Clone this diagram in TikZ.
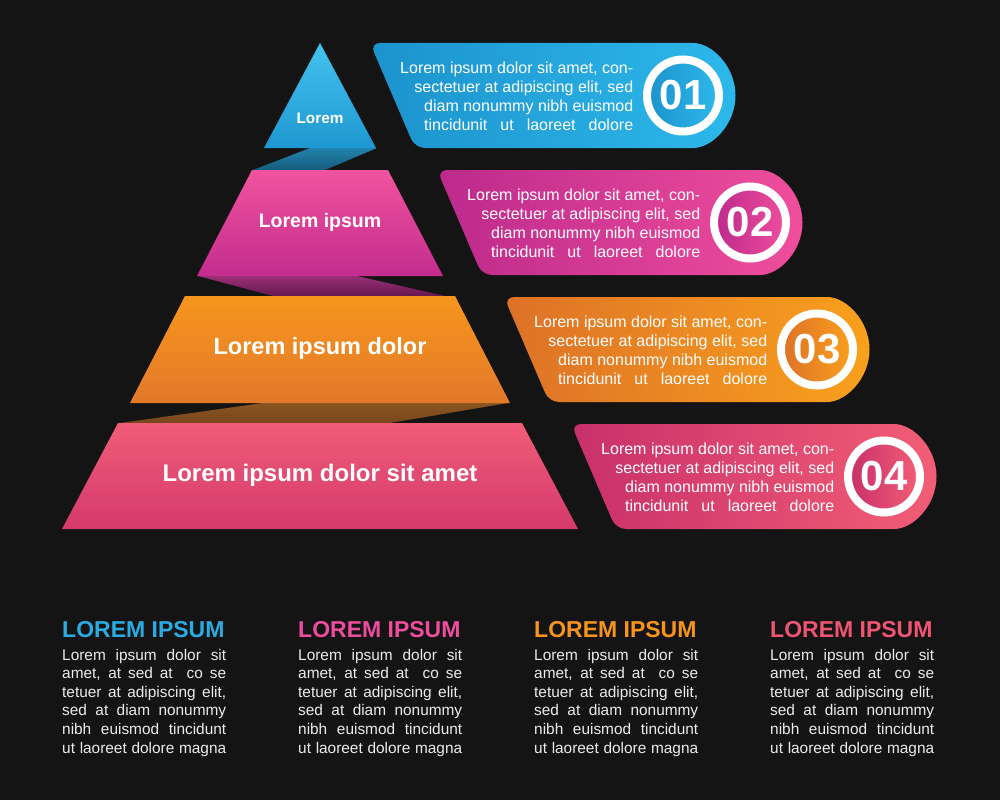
\documentclass[tikz,border=0pt]{standalone}
\usepackage{fontspec}
\setmainfont{Liberation Sans}
\usetikzlibrary{positioning}
\definecolor{bgdark}{HTML}{141414}
\definecolor{bluetop}{HTML}{45C2EE}
\definecolor{bluebot}{HTML}{1E98D0}
\definecolor{blueleft}{HTML}{1C93CD}
\definecolor{blueright}{HTML}{2DB8EA}
\definecolor{tealtop}{HTML}{2284AD}
\definecolor{tealbot}{HTML}{165B7C}
\definecolor{pinktop}{HTML}{F0539E}
\definecolor{pinkbot}{HTML}{C42C8E}
\definecolor{pinkleft}{HTML}{BD2A8C}
\definecolor{pinkright}{HTML}{EF4E9C}
\definecolor{plumtop}{HTML}{9A3076}
\definecolor{plumbot}{HTML}{661850}
\definecolor{orangetop}{HTML}{F7961D}
\definecolor{orangebot}{HTML}{E2792A}
\definecolor{orangeleft}{HTML}{DD7227}
\definecolor{orangeright}{HTML}{F9A01D}
\definecolor{browntop}{HTML}{8A5522}
\definecolor{brownbot}{HTML}{77461B}
\definecolor{redtop}{HTML}{F05C78}
\definecolor{redbot}{HTML}{D43A6C}
\definecolor{redleft}{HTML}{C8306A}
\definecolor{redright}{HTML}{F25E76}
\definecolor{headblue}{HTML}{2AACE3}
\definecolor{headpink}{HTML}{EE4C9E}
\definecolor{headorange}{HTML}{F7941D}
\definecolor{headred}{HTML}{EF5573}
\definecolor{bodygrey}{HTML}{ECECEC}

\begin{document}
\begin{tikzpicture}[x=1pt,y=-1pt,
  tierlabel/.style={text=white,inner sep=0pt},
  numlabel/.style={text=white,inner sep=0pt,font=\bfseries\fontsize{42}{42}\selectfont},
  ring/.style={draw=white,line width=8pt},
  calltext/.style={anchor=base west,inner sep=0pt,text=white,font=\fontsize{16}{19}\selectfont},
  headtext/.style={anchor=base west,inner sep=0pt,font=\bfseries\fontsize{23}{24}\selectfont},
  bodytext/.style={anchor=base west,inner sep=0pt,text=bodygrey,font=\fontsize{15.4}{18.6}\selectfont}]
	\fill[bgdark] (0,0) rectangle (1000,800);
	\useasboundingbox (0,0) rectangle (1000,800);
	\shade[top color=tealtop,bottom color=tealbot] (310,148) -- (377,148) -- (325,170) -- (253,170) -- cycle;
	\shade[top color=plumtop,bottom color=plumbot] (198,276) -- (357,276) -- (445,296) -- (273,296) -- cycle;
	\shade[top color=browntop,bottom color=brownbot] (263,403) -- (508,403) -- (390,423) -- (120,423) -- cycle;
	\shade[top color=bluetop,bottom color=bluebot] (320,43) -- (376,148) -- (264,148) -- cycle;
	\shade[top color=pinktop,bottom color=pinkbot] (252,170) -- (388,170) -- (443,276) -- (197,276) -- cycle;
	\shade[top color=orangetop,middle color=orangetop,bottom color=orangebot] (185,296) -- (455,296) -- (510,403) -- (130,403) -- cycle;
	\shade[top color=redtop,middle color=redtop!60!redbot,bottom color=redbot] (118,423) -- (522,423) -- (578,529) -- (62,529) -- cycle;
	\node[tierlabel,font=\bfseries\fontsize{15.3}{16}\selectfont] (tier1) at (320,118) {Lorem};
	\node[tierlabel,font=\bfseries\fontsize{19.5}{20}\selectfont] (tier2) at (320,222) {Lorem ipsum};
	\node[tierlabel,font=\bfseries\fontsize{23.5}{24}\selectfont] (tier3) at (320,348) {Lorem ipsum dolor};
	\node[tierlabel,font=\bfseries\fontsize{24}{24}\selectfont] (tier4) at (320,475) {Lorem ipsum dolor sit amet};
	\begin{scope}[shift={(683,95.5)}]
		\shade[left color=blueleft,right color=blueright,rounded corners=10pt] (-150,-52.5) -- (-313,-52.5) -- (-268,52.5) -- (0,52.5) arc[start angle=90,end angle=-90,radius=52.5] -- cycle;
		\shade[left color=blueleft,right color=blueright] (0,0) circle[radius=36];
		\draw[ring] (0,0) circle[radius=36];
		\node[numlabel] (num1) at (0,0) {01};
		\node[calltext] (box1) at (-287,-22.5) {\parbox[t]{237pt}{\makebox[237pt][r]{Lorem ipsum dolor sit amet, con-}\\\makebox[237pt][r]{sectetuer at adipiscing elit, sed}\\\makebox[237pt][r]{diam nonummy nibh euismod}\\\makebox[237pt][r]{\makebox[209pt][s]{tincidunit ut laoreet dolore}}}};
	\end{scope}
	\begin{scope}[shift={(750,222.5)}]
		\shade[left color=pinkleft,right color=pinkright,rounded corners=10pt] (-150,-52.5) -- (-313,-52.5) -- (-268,52.5) -- (0,52.5) arc[start angle=90,end angle=-90,radius=52.5] -- cycle;
		\shade[left color=pinkleft,right color=pinkright] (0,0) circle[radius=36];
		\draw[ring] (0,0) circle[radius=36];
		\node[numlabel] (num2) at (0,0) {02};
		\node[calltext] (box2) at (-287,-22.5) {\parbox[t]{237pt}{\makebox[237pt][r]{Lorem ipsum dolor sit amet, con-}\\\makebox[237pt][r]{sectetuer at adipiscing elit, sed}\\\makebox[237pt][r]{diam nonummy nibh euismod}\\\makebox[237pt][r]{\makebox[209pt][s]{tincidunit ut laoreet dolore}}}};
	\end{scope}
	\begin{scope}[shift={(817,349.5)}]
		\shade[left color=orangeleft,right color=orangeright,rounded corners=10pt] (-150,-52.5) -- (-313,-52.5) -- (-268,52.5) -- (0,52.5) arc[start angle=90,end angle=-90,radius=52.5] -- cycle;
		\shade[left color=orangeleft,right color=orangeright] (0,0) circle[radius=36];
		\draw[ring] (0,0) circle[radius=36];
		\node[numlabel] (num3) at (0,0) {03};
		\node[calltext] (box3) at (-287,-22.5) {\parbox[t]{237pt}{\makebox[237pt][r]{Lorem ipsum dolor sit amet, con-}\\\makebox[237pt][r]{sectetuer at adipiscing elit, sed}\\\makebox[237pt][r]{diam nonummy nibh euismod}\\\makebox[237pt][r]{\makebox[209pt][s]{tincidunit ut laoreet dolore}}}};
	\end{scope}
	\begin{scope}[shift={(884,476.5)}]
		\shade[left color=redleft,right color=redright,rounded corners=10pt] (-150,-52.5) -- (-313,-52.5) -- (-268,52.5) -- (0,52.5) arc[start angle=90,end angle=-90,radius=52.5] -- cycle;
		\shade[left color=redleft,right color=redright] (0,0) circle[radius=36];
		\draw[ring] (0,0) circle[radius=36];
		\node[numlabel] (num4) at (0,0) {04};
		\node[calltext] (box4) at (-287,-22.5) {\parbox[t]{237pt}{\makebox[237pt][r]{Lorem ipsum dolor sit amet, con-}\\\makebox[237pt][r]{sectetuer at adipiscing elit, sed}\\\makebox[237pt][r]{diam nonummy nibh euismod}\\\makebox[237pt][r]{\makebox[209pt][s]{tincidunit ut laoreet dolore}}}};
	\end{scope}
	\node[headtext,text=headblue] (head1) at (62,637) {LOREM IPSUM};
	\node[headtext,text=headpink] (head2) at (298,637) {LOREM IPSUM};
	\node[headtext,text=headorange] (head3) at (534,637) {LOREM IPSUM};
	\node[headtext,text=headred] (head4) at (770,637) {LOREM IPSUM};
	\node[bodytext] (body1) at (62,660) {\parbox[t]{164pt}{\makebox[164pt][s]{Lorem ipsum dolor sit}\\\makebox[164pt][s]{amet, at sed at \ co se}\\\makebox[164pt][s]{tetuer at adipiscing elit,}\\\makebox[164pt][s]{sed at diam nonummy}\\\makebox[164pt][s]{nibh euismod tincidunt}\\\makebox[164pt][s]{ut laoreet dolore magna}}};
	\node[bodytext] (body2) at (298,660) {\parbox[t]{164pt}{\makebox[164pt][s]{Lorem ipsum dolor sit}\\\makebox[164pt][s]{amet, at sed at \ co se}\\\makebox[164pt][s]{tetuer at adipiscing elit,}\\\makebox[164pt][s]{sed at diam nonummy}\\\makebox[164pt][s]{nibh euismod tincidunt}\\\makebox[164pt][s]{ut laoreet dolore magna}}};
	\node[bodytext] (body3) at (534,660) {\parbox[t]{164pt}{\makebox[164pt][s]{Lorem ipsum dolor sit}\\\makebox[164pt][s]{amet, at sed at \ co se}\\\makebox[164pt][s]{tetuer at adipiscing elit,}\\\makebox[164pt][s]{sed at diam nonummy}\\\makebox[164pt][s]{nibh euismod tincidunt}\\\makebox[164pt][s]{ut laoreet dolore magna}}};
	\node[bodytext] (body4) at (770,660) {\parbox[t]{164pt}{\makebox[164pt][s]{Lorem ipsum dolor sit}\\\makebox[164pt][s]{amet, at sed at \ co se}\\\makebox[164pt][s]{tetuer at adipiscing elit,}\\\makebox[164pt][s]{sed at diam nonummy}\\\makebox[164pt][s]{nibh euismod tincidunt}\\\makebox[164pt][s]{ut laoreet dolore magna}}};
\end{tikzpicture}
\end{document}
